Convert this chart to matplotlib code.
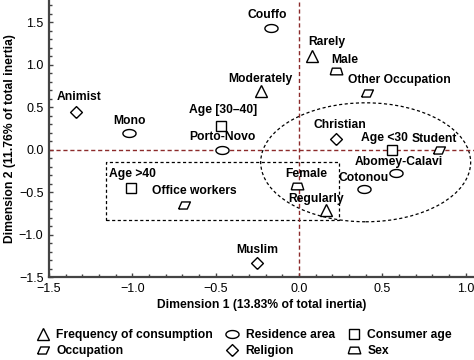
import matplotlib
matplotlib.use('Agg')
import matplotlib.pyplot as plt
import numpy as np
from matplotlib.path import Path
from matplotlib.lines import Line2D
from matplotlib.patches import Ellipse, Rectangle

plt.rcParams['font.family'] = ['Liberation Sans', 'DejaVu Sans']
plt.rcParams['font.size'] = 8.7

# frequency of consumption
freq_labels = ['Rarely', 'Moderately', 'Regularly']
freq_x = [0.08, -0.23, 0.16]
freq_y = [1.10, 0.69, -0.71]

# residence area
res_labels = ['Couffo', 'Mono', 'Porto-Novo', 'Abomey-Calavi', 'Cotonou']
res_x = [-0.17, -1.02, -0.46, 0.58, 0.39]
res_y = [1.43, 0.19, 0.00, -0.28, -0.46]

# consumer age
age_labels = ['Age [30\u201340]', 'Age <30', 'Age >40']
age_x = [-0.47, 0.56, -1.01]
age_y = [0.28, -0.01, -0.45]

# occupation
occ_labels = ['Other Occupation', 'Student', 'Office workers']
occ_x = [0.41, 0.84, -0.69]
occ_y = [0.66, 0.00, -0.65]

# religion
rel_labels = ['Animist', 'Christian', 'Muslim']
rel_x = [-1.34, 0.22, -0.25]
rel_y = [0.44, 0.13, -1.34]

# sex
sex_labels = ['Male', 'Female']
sex_x = [0.22, -0.01]
sex_y = [0.93, -0.43]

# label offsets in pixels (dx, dy) from the marker
offsets = {
    'Couffo': (-3, 13), 'Rarely': (14, 14), 'Male': (9, 11),
    'Other Occupation': (32, 13), 'Moderately': (0, 12), 'Christian': (4, 14),
    'Age <30': (-8, 12), 'Student': (-5, 11), 'Abomey-Calavi': (3, 11),
    'Cotonou': (0, 11), 'Female': (9, 12), 'Regularly': (-10, 11),
    'Muslim': (0, 13), 'Animist': (3, 15), 'Mono': (0, 12),
    'Age [30\u201340]': (2, 16), 'Porto-Novo': (0, 13), 'Age >40': (2, 14),
    'Office workers': (10, 14),
}

t = np.linspace(0, 2 * np.pi, 40)
ellipse_m = Path(np.column_stack([np.cos(t), 0.6 * np.sin(t)]))
para_m = Path([(-0.75, -0.45), (0.35, -0.45), (0.75, 0.45), (-0.35, 0.45), (-0.75, -0.45)])
trap_m = Path([(-0.75, -0.4), (0.75, -0.4), (0.5, 0.4), (-0.5, 0.4), (-0.75, -0.4)])
diam_m = Path([(0, -1), (1, 0), (0, 1), (-1, 0), (0, -1)])

groups = [
    ('Frequency of consumption', freq_labels, freq_x, freq_y, '^', 8),
    ('Occupation', occ_labels, occ_x, occ_y, para_m, 8.5),
    ('Residence area', res_labels, res_x, res_y, ellipse_m, 9.5),
    ('Religion', rel_labels, rel_x, rel_y, diam_m, 8.5),
    ('Consumer age', age_labels, age_x, age_y, 's', 7),
    ('Sex', sex_labels, sex_x, sex_y, trap_m, 9),
]

fig = plt.figure(figsize=(4.74, 3.6), dpi=100)
ax = fig.add_axes([49 / 474, 83 / 360, 425 / 474, 277 / 360])

ax.axhline(0, color='#8b2a2a', lw=1, ls=(0, (3, 2)))
ax.axvline(0, color='#8b2a2a', lw=1, ls=(0, (3, 2)))

ax.add_patch(Rectangle((-1.16, -0.83), 1.40, 0.68, fill=False, ec='black',
                       lw=0.9, ls=(0, (2.5, 2))))
ax.add_patch(Ellipse((0.40, -0.15), 1.26, 1.40, fill=False, ec='black',
                     lw=0.9, ls=(0, (2.5, 2))))

handles = []
for name, labels, xs, ys, mk, ms in groups:
    ax.plot(xs, ys, ls='none', marker=mk, ms=ms, mfc='white', mec='black', mew=1.0, zorder=3)
    for lab, x, y in zip(labels, xs, ys):
        dx, dy = offsets[lab]
        ax.annotate(lab, (x, y), xytext=(dx, dy), textcoords='offset pixels',
                    ha='center', va='center', fontweight='bold', fontsize=8.7)
    handles.append(Line2D([], [], ls='none', marker=mk, ms=ms, mfc='white',
                          mec='black', mew=1.0, label=name))

ax.set_xlim(-1.5, 1.05)
ax.set_ylim(-1.5, 1.76)
ax.set_xticks([-1.5, -1.0, -0.5, 0.0, 0.5, 1.0])
ax.set_yticks([-1.5, -1.0, -0.5, 0.0, 0.5, 1.0, 1.5])
ax.set_xticks(np.arange(-1.5, 1.05, 0.1), minor=True)
ax.set_yticks(np.arange(-1.5, 1.76, 0.1), minor=True)
ax.tick_params(which='both', direction='in', color='#444444')
ax.tick_params(which='major', length=3, width=1, labelsize=9, pad=4)
ax.tick_params(which='minor', length=2, width=1)
ax.spines['top'].set_visible(False)
ax.spines['right'].set_visible(False)
for s in ['left', 'bottom']:
    ax.spines[s].set_linewidth(1.6)
    ax.spines[s].set_color('#444444')

ax.set_xlabel('Dimension 1 (13.83% of total inertia)', fontweight='bold', fontsize=8.7, labelpad=3)
ax.set_ylabel('Dimension 2 (11.76% of total inertia)', fontweight='bold', fontsize=8.7, labelpad=2)

fig.legend(handles=handles, ncol=3, loc='upper left', bbox_to_anchor=(26 / 474, 1 - 318 / 360),
           frameon=False, handlelength=1.0, handletextpad=0.6, columnspacing=1.1,
           labelspacing=0.35, prop={'weight': 'bold', 'size': 8.7})

fig.savefig('out.png', dpi=100)
